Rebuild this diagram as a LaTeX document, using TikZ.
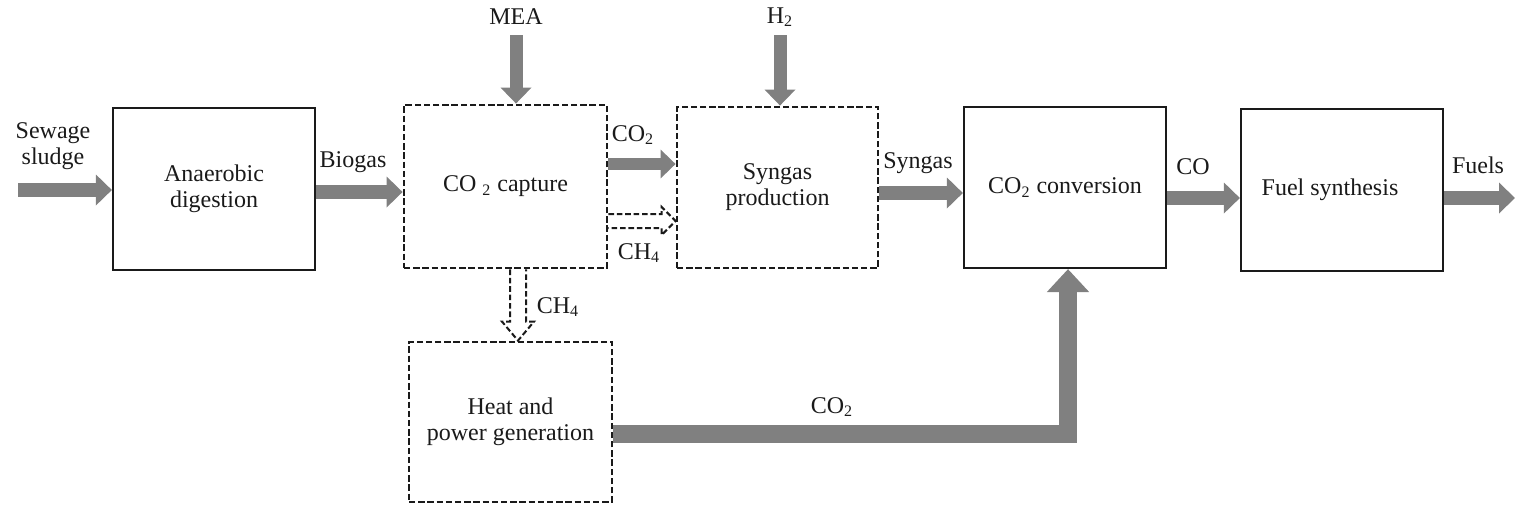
\documentclass[tikz,border=0pt]{standalone}
\usepackage{fontspec}
\setmainfont{Liberation Serif}
\usetikzlibrary{arrows.meta,calc}
\definecolor{FlowGray}{HTML}{808080}
\definecolor{Ink}{HTML}{1A1A1A}

\begin{document}
\begin{tikzpicture}[
  x=0.5pt,y=-0.5pt,
  every node/.style={font=\fontsize{12}{13}\selectfont,text=Ink},
  procbox/.style={rectangle,draw=Ink,line width=1.1pt,fill=white,
    minimum width=101pt,minimum height=81pt,align=center,inner sep=0pt},
  dashbox/.style={procbox,line width=1.4pt,dash pattern=on 3.2pt off 1.4pt},
  flow/.style={draw=FlowGray,line width=7pt,-{Triangle[length=8pt,width=15pt]}},
  hollowflow/.style={draw=Ink,fill=white,line width=1pt,dash pattern=on 2.8pt off 1.4pt},
  lbl/.style={align=center,inner sep=0pt}
]
\useasboundingbox (0,0) rectangle (1531,504);
% process blocks
\node[procbox] (ad) at (214,189) {Anaerobic\\digestion};
\node[dashbox,minimum width=101.5pt,minimum height=81.5pt] (cap) at (505.5,186.5) {CO~\textsubscript{2} capture};
\node[dashbox,minimum width=100.5pt,minimum height=80.5pt] (syn) at (777.5,187.5) {Syngas\\production};
\node[procbox,minimum height=80.5pt] (conv) at (1065,187.5) {CO\textsubscript{2} conversion};
\node[procbox] (fuel) at (1342,190) {\hspace*{-12pt}Fuel synthesis};
\node[dashbox,minimum width=101.5pt,minimum height=80pt] (heat) at (510.5,422) {Heat and\\power generation};
% free ends
\coordinate (sin) at (18,190);
\coordinate (fout) at (1515,198);
\coordinate (mea) at (516,35);
\coordinate (htwo) at (780,35);
% labels
\node[lbl] (lsludge) at (53,146) {Sewage\\sludge};
\node[lbl] (lbiogas) at (353,162) {Biogas};
\node[lbl] (lmea) at (516,17) {MEA};
\node[lbl] (lhtwo) at (780,17) {H\textsubscript{2}};
\node[lbl] (lcotwo) at (633,135) {CO\textsubscript{2}};
\node[lbl] (lchfour) at (639,253) {CH\textsubscript{4}};
\node[lbl] (lchfourb) at (558,307) {CH\textsubscript{4}};
\node[lbl] (lsyngas) at (918,163) {Syngas};
\node[lbl] (lco) at (1193,167) {CO};
\node[lbl] (lfuels) at (1478,165) {Fuels};
\node[lbl] (lcotwob) at (832,407) {CO\textsubscript{2}};
% gray flows
\draw[flow] (sin) -- (ad.west |- sin);
\draw[flow] (ad.east |- 0,192) -- (cap.west |- 0,192);
\draw[flow,line width=6.5pt] (mea) -- (mea |- cap.north);
\draw[flow,line width=6.5pt] (htwo) -- (htwo |- syn.north);
\draw[flow,line width=6pt,-{Triangle[length=7.5pt,width=14pt]}] (cap.east |- 0,164) -- (syn.west |- 0,164);
\draw[flow] (syn.east |- 0,193) -- (conv.west |- 0,193);
\draw[flow] (conv.east |- 0,198) -- (fuel.west |- 0,198);
\draw[flow] (fuel.east |- fout) -- (fout);
\draw[flow,line width=9pt,line join=miter,-{Triangle[length=11.5pt,width=20.5pt]}]
  (heat.east |- 0,434) -| (conv.south -| 1068,0);
% dashed hollow CH4 flows
\coordinate (hs) at (cap.east |- 0,221);
\coordinate (he) at (syn.west |- 0,221);
\draw[hollowflow] ($(hs)+(0,-7)$) -- ($(he)+(-14,-7)$) -- ($(he)+(-14,-14)$) -- (he)
  -- ($(he)+(-14,14)$) -- ($(he)+(-14,7)$) -- ($(hs)+(0,7)$);
\coordinate (vs) at (cap.south -| 518,0);
\coordinate (ve) at (heat.north -| 518,0);
\draw[hollowflow] ($(vs)+(-8,0)$) -- ($(ve)+(-8,-19)$) -- ($(ve)+(-16,-19)$) -- (ve)
  -- ($(ve)+(16,-19)$) -- ($(ve)+(8,-19)$) -- ($(vs)+(8,0)$);
\end{tikzpicture}
\end{document}
